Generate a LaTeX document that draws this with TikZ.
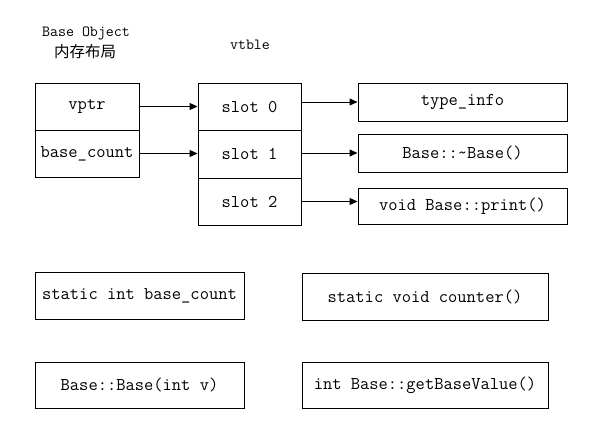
\documentclass[tikz,border=0pt]{standalone}
\usepackage{fontspec}
\newfontfamily\cjkfont{Noto Sans CJK SC}
\usetikzlibrary{arrows.meta}
\tikzset{
  cell/.style={draw, line width=1pt, inner sep=0pt, font=\ttfamily\fontsize{18}{20}\selectfont},
  conn/.style={line width=1pt, -{Triangle[length=8pt,width=7pt]}},
  lbl/.style={inner sep=0pt, font=\ttfamily\fontsize{15.5}{17}\selectfont}
}
\begin{document}
\begin{tikzpicture}[x=1pt,y=-1pt]
\useasboundingbox (0,0) rectangle (594,429);
% labels
\node[lbl] (lobj) at (86,33) {Base Object};
\node[inner sep=0pt, font=\cjkfont\fontsize{15.5}{17}\selectfont] (lcjk) at (85,52) {内存布局};
\node[lbl] (lvt) at (250,45) {vtble};
% object layout
\node[cell, minimum width=104pt, minimum height=47pt] (vptr) at (87,106.5) {vptr};
\node[cell, minimum width=104pt, minimum height=47pt] (bc) at (87,153.5) {base\_count};
% vtable
\node[cell, minimum width=103pt, minimum height=47pt] (s0) at (249.5,106.5) {slot 0};
\node[cell, minimum width=103pt, minimum height=48pt] (s1) at (249.5,154) {slot 1};
\node[cell, minimum width=103pt, minimum height=47pt] (s2) at (249.5,201.5) {slot 2};
% targets
\node[cell, minimum width=209pt, minimum height=38pt] (t0) at (462.5,102) {type\_info};
\node[cell, minimum width=209pt, minimum height=38pt] (t1) at (462.5,153) {Base::\char`~Base()};
\node[cell, minimum width=209pt, minimum height=36pt] (t2) at (462.5,206) {void Base::print()};
% bottom boxes
\node[cell, minimum width=209pt, minimum height=47pt] (b1) at (139.5,295.5) {static int base\_count};
\node[cell, minimum width=246pt, minimum height=47pt] (b2) at (425,296.5) {static void counter()};
\node[cell, minimum width=209pt, minimum height=46pt] (b3) at (139.5,385) {Base::Base(int v)};
\node[cell, minimum width=246pt, minimum height=46pt] (b4) at (425,385) {int Base::getBaseValue()};
% connectors
\draw[conn] (vptr.east) -- (s0.west);
\draw[conn] (bc.east) -- (bc.east -| s1.west);
\draw[conn] (s0.east |- t0.west) -- (t0.west);
\draw[conn] (s1.east |- t1.west) -- (t1.west);
\draw[conn] (s2.east) -- (s2.east -| t2.west);
\end{tikzpicture}
\end{document}
